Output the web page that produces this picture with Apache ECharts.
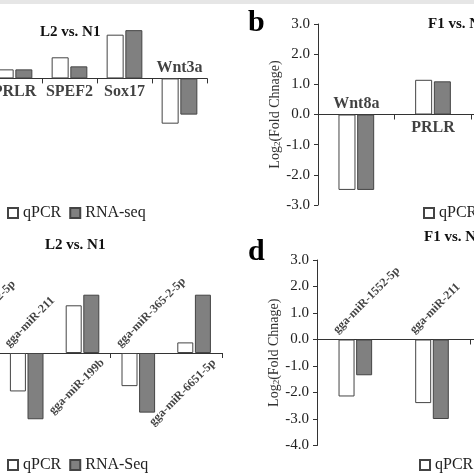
<!DOCTYPE html>
<html><head><meta charset="utf-8">
<script src="https://cdn.jsdelivr.net/npm/echarts@6/dist/echarts.min.js"></script>
<style>html,body{margin:0;background:#fff}#c{width:474px;height:474px}</style>
</head><body><div id="c"></div>
<script>
// panel a: L2 vs. N1 (genes)
var catsA = ['PRLR', 'SPEF2', 'Sox17', 'Wnt3a'];
var qpcrA = [0.3, 0.7, 1.45, -1.5];
var rnaA = [0.3, 0.4, 1.6, -1.2];
// panel b: F1 vs. N1 (genes)
var catsB = ['Wnt8a', 'PRLR', 'SPEF2'];
var qpcrB = [-2.5, 1.15, 2.2];
var rnaB = [-2.5, 1.1, 2.2];
// panel c: L2 vs. N1 (miRNA)
var catsC = ['gga-miR-1552-5p', 'gga-miR-211', 'gga-miR-199b', 'gga-miR-365-2-5p', 'gga-miR-6651-5p'];
var qpcrC = [-1.0, -1.45, 1.8, -1.25, 0.4];
var rnaC = [-1.5, -2.5, 2.2, -2.25, 2.2];
// panel d: F1 vs. N1 (miRNA)
var catsD = ['gga-miR-1552-5p', 'gga-miR-211', 'gga-miR-199b'];
var qpcrD = [-2.15, -2.4, 1.9];
var rnaD = [-1.35, -3.0, 1.6];

var serif = 'Liberation Serif';
var chart = echarts.init(document.getElementById('c'));

var grids = [
  {left: -13, width: 220, top: 3, height: 181},
  {left: 318, width: 230, top: 24, height: 181},
  {left: -57, width: 279, top: 273.5, height: 185.5},
  {left: 317, width: 230, top: 260, height: 185.5}
].map(function (g) { g.containLabel = false; g.outerBoundsMode = 'none'; return g; });
var yr = [[-3.5, 2.5], [-3, 3], [-4, 3], [-4, 3]];
var panels = [[catsA, qpcrA, rnaA, 0], [catsB, qpcrB, rnaB, 0], [catsC, qpcrC, rnaC, 45], [catsD, qpcrD, rnaD, 45]];

var xAxis = [], yAxis = [], series = [];
panels.forEach(function (p, i) {
  xAxis.push({type: 'category', gridIndex: i, data: p[0], position: 'bottom',
    axisLine: {onZero: true, lineStyle: {color: '#333'}},
    axisTick: {show: true, lineStyle: {color: '#333'}},
    axisLabel: {show: false}});
  yAxis.push({type: 'value', gridIndex: i, min: yr[i][0], max: yr[i][1], interval: 1,
    splitLine: {show: false},
    axisLine: {show: true, lineStyle: {color: '#333'}},
    axisTick: {show: true, length: 4},
    axisLabel: {color: '#222', fontFamily: serif, fontSize: 15, formatter: function (v) { return v.toFixed(1); }},
    name: i % 2 ? 'Log{s|2}(Fold Chnage)' : '', nameLocation: 'middle', nameGap: 35,
    nameTextStyle: {fontFamily: serif, fontSize: 14, color: '#333', rich: {s: {fontSize: 9, verticalAlign: 'bottom', fontFamily: serif}}}});
  var bw = i < 2 ? 17 : 16;
  series.push({name: 'qPCR', type: 'bar', xAxisIndex: i, yAxisIndex: i, data: p[1], barWidth: bw, barGap: '10%',
    itemStyle: {color: '#fff', borderColor: '#444', borderWidth: 1}});
  series.push({name: i === 2 ? 'RNA-Seq' : 'RNA-seq', type: 'bar', xAxisIndex: i, yAxisIndex: i, data: p[2], barWidth: bw,
    itemStyle: {color: '#808080', borderColor: '#444', borderWidth: 1}});
  var rot = p[3];
  series.push({type: 'scatter', xAxisIndex: i, yAxisIndex: i, symbolSize: 0, silent: true, z: 5,
    data: p[0].map(function (c, k) {
      var neg = Math.max(p[1][k], p[2][k]) <= 0;
      var lab;
      if (rot) {
        lab = neg ? {rotate: 45, align: 'left', verticalAlign: 'middle', position: [-20, -8]}
                  : {rotate: 45, align: 'right', verticalAlign: 'middle', position: [20, 8]};
      } else {
        lab = neg ? {position: 'top', distance: 3} : {position: 'bottom', distance: 5};
      }
      lab.show = true; lab.formatter = c; lab.color = '#111';
      lab.fontFamily = serif; lab.fontWeight = 'bold'; lab.fontSize = rot ? 12 : 16;
      return {value: [k, 0], label: lab};
    })});
});

var leg = {itemWidth: 10, itemHeight: 10, itemGap: 8, icon: 'rect',
  textStyle: {fontFamily: serif, fontSize: 16, color: '#222'}};
function L(o) { return Object.assign({}, leg, o); }

chart.setOption({
  animation: false,
  grid: grids,
  xAxis: xAxis,
  yAxis: yAxis,
  series: series,
  legend: [
    L({left: 2, top: 200, data: ['qPCR', 'RNA-seq']}),
    L({left: 418, top: 200, data: ['qPCR']}),
    L({left: 2, top: 452, data: ['qPCR', 'RNA-Seq']}),
    L({left: 414, top: 452, data: ['qPCR', 'RNA-seq']})
  ],
  graphic: [
    {type: 'rect', shape: {x: 0, y: 0, width: 474, height: 4}, style: {fill: '#e6e6e6'}},
    {type: 'text', left: 40, top: 25, style: {text: 'L2 vs. N1', font: 'bold 15px ' + serif, fill: '#111'}},
    {type: 'text', left: 428, top: 17, style: {text: 'F1 vs. N1', font: 'bold 15px ' + serif, fill: '#111'}},
    {type: 'text', left: 45, top: 238, style: {text: 'L2 vs. N1', font: 'bold 15px ' + serif, fill: '#111'}},
    {type: 'text', left: 424, top: 230, style: {text: 'F1 vs. N1', font: 'bold 15px ' + serif, fill: '#111'}},
    {type: 'text', left: 248, top: 8, style: {text: 'b', font: 'bold 30px ' + serif, fill: '#000'}},
    {type: 'text', left: 248, top: 237, style: {text: 'd', font: 'bold 30px ' + serif, fill: '#000'}}
  ]
});
</script></body></html>
